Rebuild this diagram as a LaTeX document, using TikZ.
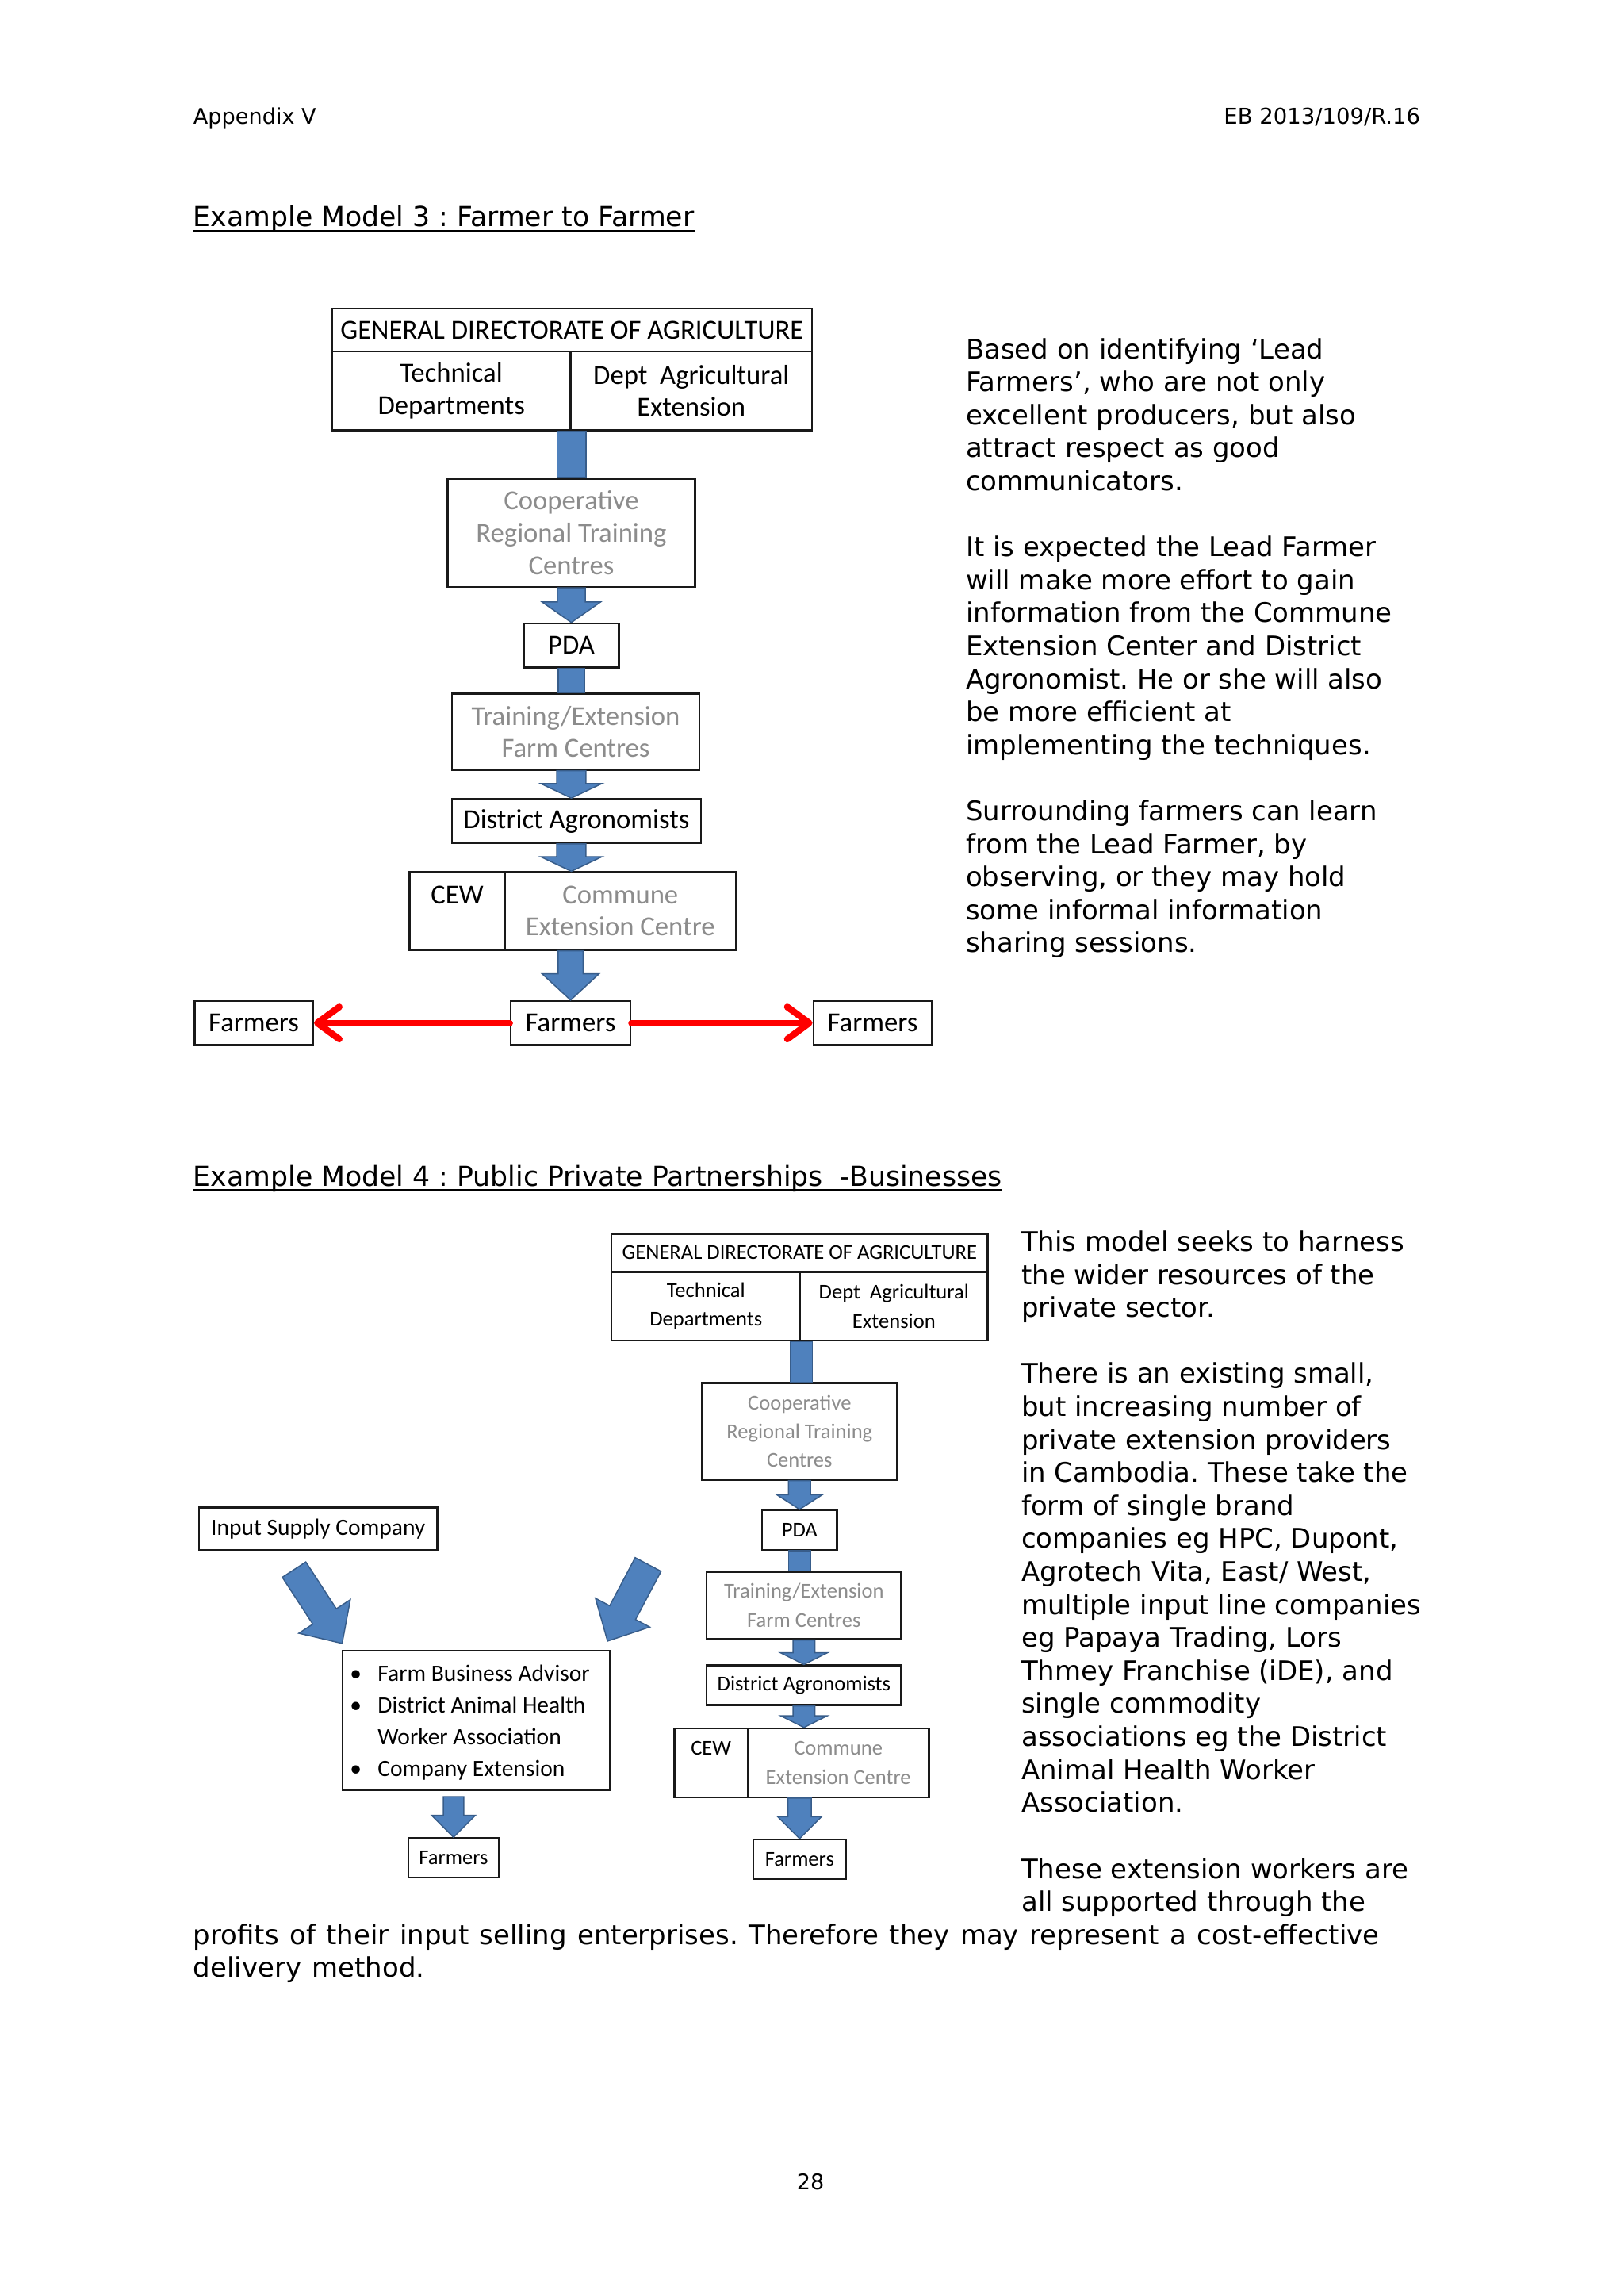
\documentclass[tikz,border=0pt]{standalone}
\usepackage{fontspec}
\setmainfont{DejaVu Sans}
\newfontfamily\calfont{Carlito}
\usetikzlibrary{calc,arrows.meta}
\frenchspacing
\definecolor{boxgray}{RGB}{140,140,140}
\definecolor{arrfill}{RGB}{79,129,189}
\definecolor{arrline}{RGB}{56,93,138}
\newcommand\mybox[7]{\node[#6, minimum width={#4pt-#2pt}, minimum height={#5pt-#3pt}] (#1) at ({(#2+#4)/2},{(#3+#5)/2}) {#7};}
\newcommand\blockarrow[5]{%
  \coordinate (baS) at (#1);
  \coordinate (baE) at (#2);
  \coordinate (baH) at ($(baE)!#5pt!(baS)$);
  \filldraw[bluearr] ($(baS)!#3pt!90:(baE)$) -- ($(baH)!#3pt!-90:(baS)$) -- ($(baH)!#4pt!-90:(baS)$) -- (baE)
    -- ($(baH)!#4pt!90:(baS)$) -- ($(baH)!#3pt!90:(baS)$) -- ($(baS)!#3pt!-90:(baE)$) -- cycle;}
\tikzset{
  x=1pt, y=-1pt,
  box/.style={draw=black!90, line width=1.3pt, inner sep=0pt, align=center, font=\calfont\fontsize{18.8}{22}\selectfont},
  boxB/.style={box, font=\calfont\fontsize{14.4}{19.7}\selectfont},
  boxC/.style={box, font=\calfont\fontsize{16}{21.7}\selectfont},
  graytext/.style={text=boxgray},
  bluearr/.style={fill=arrfill, draw=arrline, line width=0.8pt, line join=miter},
  redarr/.style={draw=red, line width=4.5pt, line cap=round, line join=round,
    -{Straight Barb[length=15pt 0, width=22pt 0, line cap=round, line join=round]}},
  body/.style={anchor=base west, inner sep=0pt},
}
\begin{document}
\begin{tikzpicture}
\useasboundingbox (0,0) rectangle (1110,1564.75);
\fill[white] (0,0) rectangle (1110,1564.75);

% header
\node[body, font=\fontsize{14.7}{17}\selectfont] (hdrL) at (132,85) {Appendix V};
\node[anchor=base east, inner sep=0pt, font=\fontsize{14.9}{17}\selectfont] (hdrR) at (971,85) {EB 2013/109/R.16};

% title model 3
\node[body, font=\fontsize{18.8}{22}\selectfont] (t3) at (132,155) {Example Model 3 : Farmer to Farmer};
\draw[line width=1.3pt] ($(t3.base west)+(0,2.8)$) -- ($(t3.base east)+(0,2.8)$);

% model 3 diagram
\mybox{gdaA}{227}{211}{555}{240}{box}{GENERAL DIRECTORATE OF AGRICULTURE}
\mybox{techA}{227}{240}{390}{294}{box}{Technical\\Departments}
\mybox{deptA}{390}{240}{555}{294}{box}{Dept\ \ Agricultural\\Extension}
\mybox{coopA}{306}{327}{475}{401}{box,graytext}{Cooperative\\Regional Training\\Centres}
\mybox{pdaA}{358}{426}{423}{456}{box}{PDA}
\mybox{trainA}{309}{474}{478}{526}{box,graytext}{Training/Extension\\Farm Centres}
\mybox{distA}{309}{546}{479}{576}{box}{District Agronomists}
\mybox{cewA}{280}{596}{345}{649}{box}{CEW\\\phantom{X}}
\mybox{comA}{345}{596}{503}{649}{box,graytext}{Commune\\Extension Centre}
\mybox{fl}{133}{684}{214}{714}{box}{Farmers}
\mybox{fm}{349}{684}{431}{714}{box}{Farmers}
\mybox{fr}{556}{684}{637}{714}{box}{Farmers}

\filldraw[bluearr] ($(techA.south east)+(-10,0)$) rectangle ($(coopA.north -| techA.south east)+(10,0)$);
\blockarrow{coopA.south}{coopA.south |- pdaA.north}{9.5}{20}{14}
\filldraw[bluearr] ($(pdaA.south)+(-9,0)$) rectangle ($(trainA.north -| pdaA.south)+(9,0)$);
\blockarrow{trainA.south -| pdaA.south}{pdaA.south |- distA.north}{10}{21}{10}
\blockarrow{distA.south -| pdaA.south}{pdaA.south |- cewA.north}{10}{21}{10}
\blockarrow{fm.north |- comA.south}{fm.north}{8.5}{19.5}{18}
\draw[redarr] (fm.west) -- (fl.east);
\draw[redarr] (fm.east) -- (fr.west);

% model 3 text
\node[body] (txtA) at (660,245) {\parbox[t]{420pt}{\fontsize{18.4}{22.55}\selectfont
Based on identifying ‘Lead\\
Farmers’, who are not only\\
excellent producers, but also\\
attract respect as good\\
communicators.\\[22.55pt]
It is expected the Lead Farmer\\
will make more effort to gain\\
information from the Commune\\
Extension Center and District\\
Agronomist. He or she will also\\
be more efficient at\\
implementing the techniques.\\[22.55pt]
Surrounding farmers can learn\\
from the Lead Farmer, by\\
observing, or they may hold\\
some informal information\\
sharing sessions.}};

% title model 4
\node[body, font=\fontsize{18.8}{22}\selectfont] (t4) at (132,810.5) {Example Model 4 : Public Private Partnerships\ \ -Businesses};
\draw[line width=1.3pt] ($(t4.base west)+(0,2.8)$) -- ($(t4.base east)+(0,2.8)$);

% model 4 diagram
\mybox{gdaB}{418}{843}{675}{869}{boxB}{GENERAL DIRECTORATE OF AGRICULTURE}
\mybox{techB}{418}{869}{547}{916}{boxB}{Technical\\Departments}
\mybox{deptB}{547}{869}{675}{916}{boxB}{Dept\ \ Agricultural\\Extension}
\mybox{coopB}{480}{945}{613}{1011}{boxB,graytext}{Cooperative\\Regional Training\\Centres}
\mybox{pdaB}{521}{1032}{572}{1059}{boxB}{PDA}
\mybox{trainB}{483}{1074}{616}{1120}{boxB,graytext}{Training/Extension\\Farm Centres}
\mybox{distB}{483}{1138}{616}{1165}{boxB}{District Agronomists}
\mybox{cewB}{461}{1181}{511}{1228}{boxB}{CEW\\\phantom{X}}
\mybox{comB}{511}{1181}{635}{1228}{boxB,graytext}{Commune\\Extension Centre}
\mybox{fmB}{515}{1257}{578}{1284}{boxB}{Farmers}
\mybox{inp}{136}{1030}{299}{1059}{boxC}{Input Supply Company}
\mybox{bul}{234}{1128}{417}{1223}{boxC}{}
\node[anchor=west, inner sep=0pt, align=left, font=\calfont\fontsize{16}{21.7}\selectfont] (bullist) at (239,1177)
  {\makebox[19pt][l]{•}Farm Business Advisor\\
   \makebox[19pt][l]{•}District Animal Health\\
   \hspace*{19pt}Worker Association\\
   \makebox[19pt][l]{•}Company Extension};
\mybox{flB}{279}{1256}{341}{1283}{boxB}{Farmers}

\filldraw[bluearr] ($(techB.south east)+(-7.5,0)$) rectangle ($(coopB.north -| techB.south east)+(7.5,0)$);
\blockarrow{coopB.south -| pdaB.south}{pdaB.north}{7.5}{15.5}{10}
\filldraw[bluearr] ($(pdaB.south)+(-7.5,0)$) rectangle ($(trainB.north -| pdaB.south)+(7.5,0)$);
\blockarrow{trainB.south}{trainB.south |- distB.north}{7.5}{16}{8}
\blockarrow{distB.south}{distB.south |- cewB.north}{7.5}{16}{8}
\blockarrow{fmB.north |- comB.south}{fmB.north}{8}{15}{15}
\blockarrow{$(flB.north |- bul.south)+(0,4)$}{flB.north}{7}{15}{15}
\coordinate (tailL) at (201,1072.5);
\coordinate (tipL) at ($(bul.north west)+(0.5,-4.4)$);
\blockarrow{tailL}{tipL}{9.6}{21}{22}
\coordinate (tailR) at (443,1069);
\coordinate (tipR) at ($(bul.north east)+(-2.4,-6)$);
\blockarrow{tailR}{tipR}{10}{21}{22}

% model 4 text
\node[body] (txtB) at (698,855) {\parbox[t]{420pt}{\fontsize{18.4}{22.55}\selectfont
This model seeks to harness\\
the wider resources of the\\
private sector.\\[22.55pt]
There is an existing small,\\
but increasing number of\\
private extension providers\\
in Cambodia. These take the\\
form of single brand\\
companies eg HPC, Dupont,\\
Agrotech Vita, East/ West,\\
multiple input line companies\\
eg Papaya Trading, Lors\\
Thmey Franchise (iDE), and\\
single commodity\\
associations eg the District\\
Animal Health Worker\\
Association.\\[22.55pt]
These extension workers are\\
all supported through the}};
\node[body] (txtC) at (132,1328.5) {\parbox[t]{900pt}{\fontsize{18.4}{22.55}\selectfont\spaceskip=7.3pt plus 1pt
profits of their input selling enterprises. Therefore they may represent a cost-effective\\
delivery method.}};

\node[anchor=base, inner sep=0pt, font=\fontsize{14.7}{17}\selectfont] (pg) at (554,1496) {28};
\end{tikzpicture}
\end{document}
